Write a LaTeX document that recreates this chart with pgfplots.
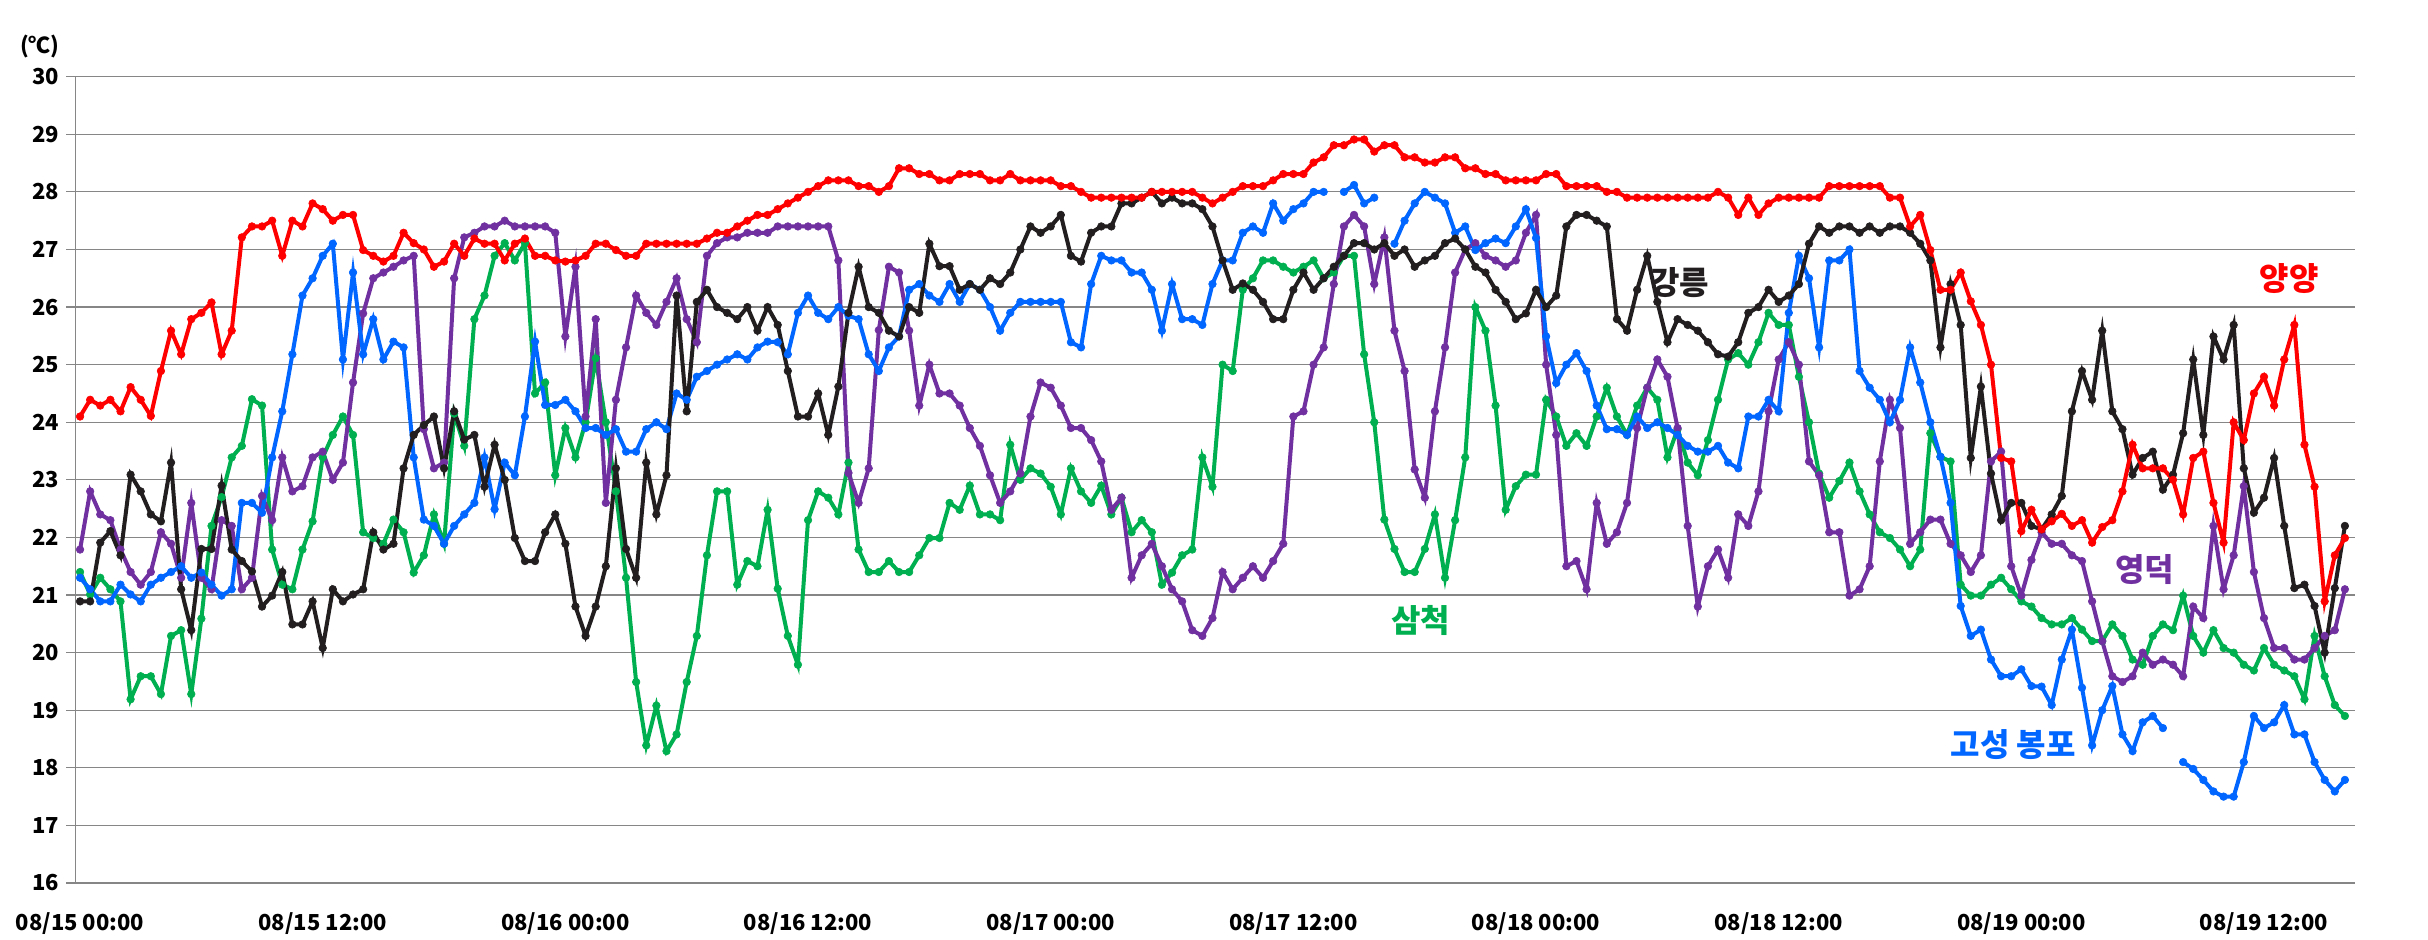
\documentclass[border=0pt]{standalone}
\usepackage{fontspec}
\setmainfont{Noto Sans CJK KR}
\usepackage{pgfplots}
\usepackage{pgfplotstable}
\pgfplotsset{compat=1.18}
\definecolor{cR}{RGB}{255,0,0}
\definecolor{cB}{RGB}{34,30,31}
\definecolor{cU}{RGB}{0,102,255}
\definecolor{cG}{RGB}{0,176,80}
\definecolor{cP}{RGB}{112,48,160}
\definecolor{gridc}{RGB}{134,134,134}
\pgfplotstableread{
i R B U G P
0 24.10 20.89 21.30 21.40 21.79
1 24.39 20.89 21.10 21.01 22.80
2 24.29 21.91 20.89 21.30 22.40
3 24.39 22.11 20.89 21.10 22.30
4 24.19 21.69 21.18 20.89 21.79
5 24.61 23.09 21.01 19.19 21.40
6 24.39 22.80 20.89 19.59 21.18
7 24.11 22.40 21.18 19.59 21.40
8 24.89 22.28 21.30 19.28 22.09
9 25.59 23.30 21.40 20.29 21.89
10 25.18 21.10 21.50 20.39 21.30
11 25.79 20.39 21.30 19.28 22.60
12 25.90 21.80 21.39 20.59 21.30
13 26.08 21.80 21.18 22.20 21.10
14 25.18 22.90 20.99 22.70 22.30
15 25.59 21.79 21.10 23.39 22.20
16 27.21 21.59 22.60 23.59 21.10
17 27.40 21.41 22.60 24.40 21.30
18 27.40 20.80 22.43 24.29 22.72
19 27.50 20.99 23.39 21.79 22.30
20 26.89 21.40 24.19 21.18 23.39
21 27.50 20.49 25.18 21.10 22.80
22 27.40 20.49 26.20 21.79 22.89
23 27.80 20.89 26.50 22.28 23.39
24 27.70 20.08 26.89 23.39 23.49
25 27.50 21.10 27.10 23.78 23.00
26 27.60 20.89 25.09 24.10 23.30
27 27.60 21.01 26.60 23.78 24.69
28 26.99 21.10 25.18 22.09 25.89
29 26.89 22.09 25.79 21.99 26.50
30 26.79 21.79 25.09 21.89 26.60
31 26.89 21.89 25.40 22.31 26.70
32 27.29 23.20 25.30 22.09 26.81
33 27.11 23.78 23.39 21.39 26.89
34 27.00 23.95 22.31 21.69 23.88
35 26.70 24.10 22.20 22.40 23.20
36 26.79 23.20 21.89 21.89 23.30
37 27.10 24.19 22.20 24.15 26.50
38 26.89 23.70 22.40 23.59 27.21
39 27.19 23.78 22.60 25.79 27.29
40 27.10 22.88 23.39 26.20 27.40
41 27.10 23.61 22.49 26.89 27.40
42 26.81 23.00 23.30 27.11 27.50
43 27.10 21.99 23.08 26.81 27.40
44 27.19 21.59 24.10 27.11 27.40
45 26.89 21.59 25.40 24.50 27.40
46 26.89 22.09 24.30 24.69 27.40
47 26.81 22.40 24.30 23.08 27.29
48 26.79 21.89 24.39 23.90 25.49
49 26.81 20.80 24.19 23.39 26.70
50 26.89 20.29 23.90 24.00 24.10
51 27.10 20.80 23.90 25.11 25.79
52 27.10 21.50 23.78 24.00 22.60
53 26.99 23.20 23.88 22.80 24.39
54 26.89 21.80 23.49 21.30 25.30
55 26.89 21.30 23.49 19.49 26.20
56 27.10 23.30 23.88 18.39 25.90
57 27.10 22.40 24.00 19.08 25.69
58 27.10 23.08 23.88 18.29 26.09
59 27.10 26.20 24.50 18.58 26.50
60 27.10 24.19 24.39 19.49 25.79
61 27.10 26.09 24.79 20.29 25.39
62 27.19 26.30 24.89 21.69 26.89
63 27.29 26.00 25.00 22.80 27.11
64 27.29 25.90 25.09 22.80 27.21
65 27.40 25.79 25.18 21.18 27.21
66 27.50 26.00 25.09 21.59 27.29
67 27.60 25.59 25.30 21.50 27.29
68 27.60 26.00 25.40 22.48 27.29
69 27.70 25.69 25.39 21.11 27.40
70 27.80 24.89 25.18 20.29 27.40
71 27.90 24.10 25.90 19.79 27.40
72 28.00 24.10 26.20 22.30 27.40
73 28.10 24.50 25.90 22.80 27.40
74 28.20 23.78 25.79 22.69 27.40
75 28.20 24.62 26.00 22.40 26.81
76 28.20 25.90 25.85 23.30 23.12
77 28.10 26.70 25.79 21.79 22.60
78 28.10 26.00 25.18 21.40 23.20
79 28.00 25.90 24.89 21.40 25.60
80 28.10 25.59 25.30 21.59 26.70
81 28.41 25.49 25.49 21.40 26.60
82 28.41 26.00 26.30 21.40 25.59
83 28.31 25.90 26.40 21.69 24.29
84 28.31 27.10 26.20 21.99 25.00
85 28.20 26.71 26.09 21.99 24.50
86 28.20 26.71 26.40 22.60 24.50
87 28.31 26.30 26.09 22.48 24.29
88 28.31 26.40 26.40 22.90 23.90
89 28.31 26.30 26.30 22.40 23.59
90 28.20 26.50 26.00 22.40 23.08
91 28.20 26.40 25.59 22.30 22.60
92 28.31 26.60 25.90 23.61 22.80
93 28.20 27.00 26.09 23.00 23.11
94 28.20 27.40 26.09 23.20 24.10
95 28.20 27.29 26.09 23.11 24.69
96 28.20 27.40 26.09 22.88 24.60
97 28.10 27.60 26.09 22.40 24.29
98 28.10 26.89 25.39 23.20 23.90
99 28.00 26.79 25.30 22.80 23.90
100 27.90 27.29 26.40 22.60 23.69
101 27.90 27.40 26.89 22.90 23.32
102 27.90 27.40 26.81 22.40 22.48
103 27.90 27.80 26.81 22.69 22.69
104 27.90 27.80 26.60 22.09 21.30
105 27.90 27.90 26.60 22.30 21.69
106 28.00 28.00 26.30 22.09 21.89
107 28.00 27.80 25.59 21.18 21.50
108 28.00 27.90 26.40 21.39 21.10
109 28.00 27.80 25.79 21.69 20.89
110 28.00 27.80 25.79 21.79 20.39
111 27.90 27.70 25.69 23.39 20.29
112 27.80 27.40 26.40 22.88 20.60
113 27.90 26.81 26.81 25.00 21.40
114 28.00 26.30 26.81 24.89 21.10
115 28.10 26.41 27.29 26.30 21.30
116 28.10 26.30 27.40 26.50 21.50
117 28.10 26.09 27.29 26.81 21.30
118 28.20 25.79 27.80 26.81 21.59
119 28.31 25.79 27.50 26.70 21.89
120 28.31 26.30 27.70 26.60 24.10
121 28.31 26.60 27.80 26.70 24.19
122 28.51 26.30 28.00 26.81 25.00
123 28.60 26.50 28.00 26.50 25.30
124 28.81 26.70 nan 26.60 26.40
125 28.81 26.89 28.00 26.89 27.40
126 28.91 27.11 28.12 26.89 27.60
127 28.91 27.11 27.80 25.18 27.40
128 28.70 27.00 27.90 24.00 26.40
129 28.81 27.11 nan 22.31 27.21
130 28.81 26.89 27.10 21.80 25.59
131 28.60 27.00 27.50 21.40 24.89
132 28.60 26.70 27.80 21.40 23.18
133 28.51 26.81 28.00 21.80 22.69
134 28.51 26.89 27.90 22.40 24.19
135 28.60 27.11 27.80 21.30 25.30
136 28.60 27.19 27.29 22.30 26.60
137 28.41 27.00 27.40 23.39 27.00
138 28.41 26.70 26.99 26.00 27.11
139 28.31 26.60 27.11 25.59 26.89
140 28.31 26.30 27.19 24.29 26.81
141 28.20 26.09 27.11 22.48 26.70
142 28.20 25.79 27.40 22.89 26.81
143 28.20 25.89 27.70 23.09 27.29
144 28.20 26.30 27.20 23.09 27.60
145 28.31 26.00 25.49 24.39 25.00
146 28.31 26.20 24.68 24.10 23.78
147 28.10 27.40 25.00 23.59 21.50
148 28.10 27.60 25.20 23.81 21.59
149 28.10 27.60 24.89 23.59 21.10
150 28.10 27.50 24.29 24.10 22.60
151 28.00 27.40 23.88 24.60 21.89
152 28.00 25.79 23.88 24.10 22.09
153 27.90 25.59 23.78 23.78 22.60
154 27.90 26.30 24.10 24.29 23.90
155 27.90 26.89 23.90 24.60 24.60
156 27.90 26.09 24.00 24.39 25.09
157 27.90 25.39 23.90 23.39 24.79
158 27.90 25.79 23.78 23.88 23.90
159 27.90 25.69 23.59 23.30 22.20
160 27.90 25.59 23.49 23.08 20.80
161 27.90 25.39 23.49 23.69 21.50
162 28.00 25.18 23.59 24.39 21.79
163 27.90 25.14 23.30 25.09 21.30
164 27.60 25.39 23.20 25.20 22.40
165 27.90 25.90 24.10 25.00 22.20
166 27.60 26.00 24.10 25.39 22.80
167 27.80 26.30 24.39 25.90 24.19
168 27.90 26.09 24.19 25.69 25.09
169 27.90 26.20 25.90 25.69 25.39
170 27.90 26.40 26.89 24.79 25.00
171 27.90 27.10 26.50 24.00 23.32
172 27.90 27.40 25.30 23.11 23.08
173 28.10 27.29 26.81 22.69 22.09
174 28.10 27.40 26.81 22.98 22.09
175 28.10 27.40 27.00 23.30 20.99
176 28.10 27.29 24.89 22.80 21.10
177 28.10 27.40 24.60 22.40 21.50
178 28.10 27.29 24.39 22.09 23.32
179 27.90 27.40 24.00 21.99 24.39
180 27.90 27.40 24.39 21.79 23.90
181 27.40 27.29 25.30 21.50 21.89
182 27.60 27.10 24.69 21.79 22.09
183 26.99 26.81 24.00 23.81 22.31
184 26.30 25.30 23.40 23.40 22.31
185 26.30 26.40 22.60 23.32 21.89
186 26.60 25.69 20.81 21.18 21.69
187 26.10 23.38 20.29 20.99 21.40
188 25.69 24.62 20.40 20.99 21.69
189 25.00 23.11 19.88 21.18 23.32
190 23.38 22.30 19.59 21.30 23.49
191 23.32 22.60 19.59 21.10 21.50
192 22.11 22.60 19.71 20.89 20.99
193 22.48 22.20 19.42 20.80 21.61
194 22.14 22.14 19.41 20.60 22.09
195 22.28 22.40 19.09 20.49 21.89
196 22.41 22.72 19.88 20.49 21.89
197 22.20 24.19 20.40 20.60 21.69
198 22.30 24.89 19.39 20.40 21.59
199 21.91 24.39 18.39 20.20 20.89
200 22.18 25.59 19.00 20.20 20.20
201 22.30 24.19 19.42 20.49 19.59
202 22.80 23.88 18.58 20.29 19.49
203 23.61 23.09 18.29 19.88 19.59
204 23.20 23.38 18.79 19.79 20.00
205 23.20 23.49 18.90 20.29 19.79
206 23.20 22.83 18.69 20.49 19.88
207 23.00 23.09 nan 20.39 19.79
208 22.40 23.81 18.10 20.99 19.59
209 23.38 25.09 17.98 20.29 20.80
210 23.49 23.78 17.79 20.00 20.60
211 22.60 25.49 17.59 20.39 22.20
212 21.91 25.09 17.50 20.08 21.10
213 24.00 25.69 17.50 20.00 21.69
214 23.69 23.20 18.10 19.79 22.89
215 24.50 22.43 18.90 19.69 21.40
216 24.79 22.69 18.69 20.08 20.60
217 24.29 23.38 18.79 19.79 20.08
218 25.09 22.20 19.09 19.69 20.08
219 25.69 21.12 18.58 19.59 19.88
220 23.61 21.18 18.58 19.19 19.88
221 22.88 20.81 18.10 20.29 20.08
222 20.89 20.00 17.79 19.59 20.29
223 21.69 21.12 17.59 19.09 20.39
224 21.99 22.20 17.79 18.90 21.10
}\data

\begin{document}
\begin{tikzpicture}
\path[use as bounding box] (0,0) rectangle (1214pt,469.5pt);
\begin{axis}[
  at={(37.65pt,28pt)}, anchor=south west,
  scale only axis, width=1139.85pt, height=403.15pt,
  xmin=-0.47, xmax=225, ymin=16, ymax=30,
  ytick={16,...,30},
  xtick={0,24,...,216},
  xticklabels={08/15 00:00,08/15 12:00,08/16 00:00,08/16 12:00,08/17 00:00,08/17 12:00,08/18 00:00,08/18 12:00,08/19 00:00,08/19 12:00},
  ymajorgrids, grid style={gridc, line width=0.6pt},
  axis x line*=bottom, axis y line*=left,
  axis line style={gridc, line width=0.6pt},
  tick align=outside, major tick length=4.5pt,
  ytick style={gridc, line width=0.6pt},
  xtick style={draw=none},
  /pgf/number format/assume math mode=true,
  tick label style={font=\bfseries\fontsize{11}{13}\selectfont, black},
  xticklabel style={yshift=-7pt},
  unbounded coords=jump,
  clip=false,
]
\addplot[cG, line width=2pt, mark=*, mark size=1.9pt, mark options={line width=0.3pt}] table[x=i,y=G]{\data};
\addplot[cP, line width=2pt, mark=*, mark size=1.9pt, mark options={line width=0.3pt}] table[x=i,y=P]{\data};
\addplot[cU, line width=2pt, mark=*, mark size=1.9pt, mark options={line width=0.3pt}] table[x=i,y=U]{\data};
\addplot[cB, line width=2pt, mark=*, mark size=1.9pt, mark options={line width=0.3pt}] table[x=i,y=B]{\data};
\addplot[cR, line width=2pt, mark=*, mark size=1.9pt, mark options={line width=0.3pt}] table[x=i,y=R]{\data};
\node[cB, font=\bfseries\fontsize{16}{18}\selectfont] at (axis cs:158.2,26.42) {강릉};
\node[cR, font=\bfseries\fontsize{16}{18}\selectfont] at (axis cs:218.5,26.49) {양양};
\node[cP, font=\bfseries\fontsize{16}{18}\selectfont] at (axis cs:204.2,21.44) {영덕};
\node[cG, font=\bfseries\fontsize{16}{18}\selectfont] at (axis cs:132.6,20.55) {삼척};
\node[cU, font=\bfseries\fontsize{16}{18}\selectfont] at (axis cs:191.2,18.40) {고성 봉포};
\end{axis}
\node[font=\bfseries\fontsize{11}{13}\selectfont] at (20pt,446pt) {(℃)};
\end{tikzpicture}
\end{document}
